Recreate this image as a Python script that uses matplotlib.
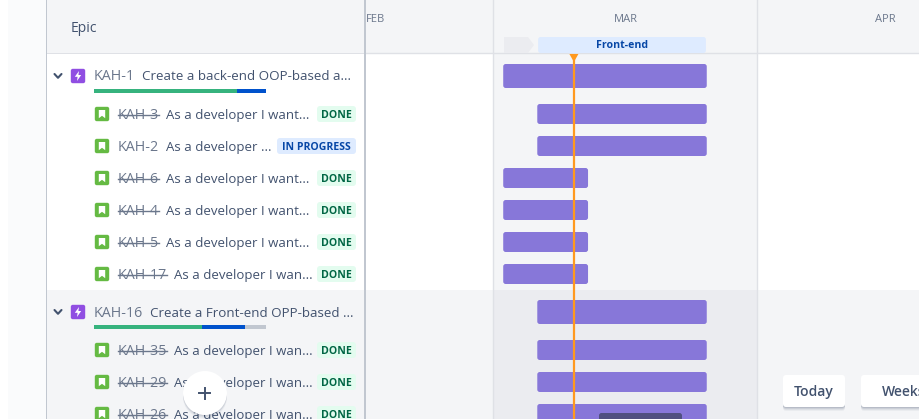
import matplotlib
matplotlib.use("Agg")
import numpy as np
from matplotlib import pyplot as plt
from matplotlib.patches import FancyBboxPatch, Circle, Polygon, Rectangle

plt.rcParams['font.family'] = ['Open Sans', 'DejaVu Sans']

# issues, top to bottom
keys = ["KAH-1", "KAH-3", "KAH-2", "KAH-6", "KAH-4", "KAH-5", "KAH-17",
        "KAH-16", "KAH-35", "KAH-29", "KAH-26"]
titles = ["Create a back-end OOP-based a...", "As a developer I want...", "As a developer ...",
          "As a developer I want...", "As a developer I want...", "As a developer I want...",
          "As a developer I wan...", "Create a Front-end OPP-based ...", "As a developer I wan...",
          "As a developer I wan...", "As a developer I wan..."]
statuses = ["", "DONE", "IN PROGRESS", "DONE", "DONE", "DONE", "DONE",
            "", "DONE", "DONE", "DONE"]
# bars in days since 1 March
bar_start = [1.2, 5.2, 5.2, 1.2, 1.2, 1.2, 1.2, 5.2, 5.2, 5.2, 5.2]
bar_end = [25.1, 25.1, 25.1, 11.16, 11.16, 11.16, 11.16, 25.1, 25.1, 25.1, 25.1]
# epic progress, percent done / in progress / to do
progress = {"KAH-1": [83, 17, 0], "KAH-16": [63, 25, 12]}
months = ["FEB", "MAR", "APR"]
month_start = [-28, 0, 31]
month_label_day = [-14.5, 15.6, 46.1]
today = 9.5
release_name = "Front-end"
release_start = 5.3
release_end = 25.0
buttons = ["Today", "Weeks"]

W, H = 920, 419
PX_PER_DAY = 264 / 31
MAR_X = 493
PANEL_X = 365
GROUP2_TOP = 290

GREY_BG = "#F4F5F7"
DARK_BG = "#EBECF0"
LINE = "#DFE1E6"
BORDER = "#C1C7D0"
TEXT = "#42526E"
KEY = "#6B778C"

fig = plt.figure(figsize=(W / 100, H / 100), dpi=100)
ax = fig.add_axes([0, 0, 1, 1], zorder=1)
ax.set_xlim(0, W)
ax.set_ylim(H, 0)
ax.axis("off")

# timeline axes, x in days
tl = fig.add_axes([PANEL_X / W, 0, (W - PANEL_X) / W, 1], zorder=2)
tl.set_xlim((PANEL_X - MAR_X) / PX_PER_DAY, (W - MAR_X) / PX_PER_DAY)
tl.set_ylim(H, 0)
tl.axis("off")
tl.patch.set_alpha(0)

# overlay for the floating stuff
top = fig.add_axes([0, 0, 1, 1], zorder=3)
top.set_xlim(0, W)
top.set_ylim(H, 0)
top.axis("off")
top.patch.set_alpha(0)


def rbox(a, x0, y0, x1, y1, r, color, z=2, **kw):
    p = FancyBboxPatch((x0 + r, y0 + r), x1 - x0 - 2 * r, y1 - y0 - 2 * r,
                       boxstyle="round,pad=%f,rounding_size=%f" % (r, r),
                       fc=color, ec="none", zorder=z, **kw)
    a.add_patch(p)
    return p


def day_box(a, d0, d1, y0, y1, color, z=3):
    # rounded box with x in days, aspect keeps the corners round in pixels
    r = 2.5
    rd = r / PX_PER_DAY
    p = FancyBboxPatch((d0 + rd, y0 + r), d1 - d0 - 2 * rd, y1 - y0 - 2 * r,
                       boxstyle="round,pad=%f,rounding_size=%f" % (rd, rd),
                       mutation_aspect=PX_PER_DAY, fc=color, ec="none", zorder=z)
    a.add_patch(p)


def epic_icon(cx, cy):
    rbox(ax, cx - 7.2, cy - 7.2, cx + 7.2, cy + 7.2, 2, "#904EE2", z=4)
    bolt = np.array([[1, -5], [-3.2, 0.8], [-0.4, 0.8], [-1, 5], [3.2, -1], [0.4, -1]])
    ax.add_patch(Polygon(bolt + [cx, cy], fc="white", ec="none", zorder=5))


def story_icon(cx, cy):
    rbox(ax, cx - 7.2, cy - 7.2, cx + 7.2, cy + 7.2, 2, "#65BA43", z=4)
    mark = np.array([[-3.2, -4], [3.2, -4], [3.2, 4.2], [0, 1.8], [-3.2, 4.2]])
    ax.add_patch(Polygon(mark + [cx, cy], fc="white", ec="none", zorder=5))


def chevron(cx, cy):
    ax.plot([cx - 3.5, cx, cx + 3.5], [cy - 2, cy + 1.8, cy - 2], color=TEXT, lw=1.5,
            solid_capstyle="round", solid_joinstyle="round", zorder=4)


# row centres, epics take more room because of the progress bar
row_y = []
y = 76
for i in range(len(keys)):
    if i > 0:
        y += 38 if statuses[i] == "" or statuses[i - 1] == "" else 32
    row_y.append(y)

# backgrounds
ax.add_patch(Rectangle((8, 0), 38, H, fc="#FAFBFC", ec="none", zorder=0))
ax.add_patch(Rectangle((47, GROUP2_TOP), W - 47, H - GROUP2_TOP, fc=GREY_BG, ec="none", zorder=0))
ax.add_patch(Rectangle((47, 0), W - 47, 53, fc=GREY_BG, ec="none", zorder=0))
ax.add_patch(Rectangle((46, 0), 1.2, H, fc=BORDER, ec="none", zorder=1))
ax.add_patch(Rectangle((47, 53), W - 47, 1, fc=LINE, ec="none", zorder=1))
ax.text(71, 28, "Epic", fontsize=10, color=TEXT, va="center", ha="left", zorder=4)

# left panel rows
renderer = fig.canvas.get_renderer()
for i, k in enumerate(keys):
    y = row_y[i] + 1
    if statuses[i] == "":
        chevron(58, y - 1)
        epic_icon(78, y - 1)
        ax.text(94, y, k, fontsize=10.3, color=KEY, va="center", ha="left", zorder=4)
        ax.text(142 if len(k) == 5 else 150, y, titles[i], fontsize=9.65, color=TEXT,
                va="center", ha="left", zorder=4)
        x = 94
        for pct, col in zip(progress[k], ["#36B37E", "#0052CC", BORDER]):
            if pct > 0:
                ax.barh(y + 14, pct * 172 / 100, left=x, height=4, color=col, zorder=4)
            x += pct * 172 / 100
    else:
        story_icon(102, y - 1)
        t = ax.text(118, y, k, fontsize=10.3, color=KEY, va="center", ha="left", zorder=4)
        if statuses[i] == "DONE":
            bb = t.get_window_extent(renderer)
            ax.plot([118, bb.x1], [y, y], color=KEY, lw=1, zorder=5)
        ax.text(166 if len(k) == 5 else 174, y, titles[i], fontsize=9.55, color=TEXT,
                va="center", ha="left", zorder=4)
        if statuses[i] == "DONE":
            rbox(ax, 317, y - 9, 356, y + 7, 3, "#E3FCEF", z=3)
            ax.text(336.5, y, "DONE", fontsize=7.6, fontweight="bold", color="#006644",
                    va="center", ha="center", zorder=4)
        else:
            rbox(ax, 277, y - 9, 356, y + 7, 3, "#DEEBFF", z=3)
            ax.text(316.5, y, "IN PROGRESS", fontsize=7.6, fontweight="bold", color="#0747A6",
                    va="center", ha="center", zorder=4)

# month columns
tl.axvspan(0, 31, ymin=1 - GROUP2_TOP / H, ymax=1, fc=GREY_BG, ec="none", zorder=0)
tl.axvspan(0, 31, ymin=0, ymax=1 - GROUP2_TOP / H, fc=DARK_BG, ec="none", zorder=0)
for m, d0, d_label in zip(months, month_start, month_label_day):
    tl.axvline(d0, color=LINE, lw=1, zorder=1)
    if m == "FEB":
        # the FEB label sticks to the panel edge while scrolled
        d_label = (376 - MAR_X) / PX_PER_DAY
    tl.text(d_label, 19, m, fontsize=8, color=KEY, ha="center", va="center")
tl.axhline(53.5, color=LINE, lw=1, zorder=1)
top.add_patch(Rectangle((364, 0), 1.6, H, fc=BORDER, ec="none", zorder=0))

# release markers
chev = np.array([[504, 37], [528, 37], [534, 45], [528, 53], [504, 53]], dtype=float)
chev[:, 0] = (chev[:, 0] - MAR_X) / PX_PER_DAY
tl.add_patch(Polygon(chev, fc=DARK_BG, ec="none", zorder=2))
day_box(tl, release_start, release_end, 37, 53, "#DEEBFF")
tl.text((release_start + release_end) / 2, 46, release_name, fontsize=7.6, fontweight="bold",
        color="#0747A6", ha="center", va="center", zorder=4)

# gantt bars
for i in range(len(keys)):
    h = 12 if statuses[i] == "" else 10
    day_box(tl, bar_start[i], bar_end[i], row_y[i] - h, row_y[i] + h, "#8777D9")

# today line
tl.plot([today, today], [54, H], color="#FF991F", lw=1.6, zorder=5, solid_capstyle="butt")
tl.add_patch(Polygon([[today - 4.5 / PX_PER_DAY, 54], [today + 4.5 / PX_PER_DAY, 54], [today, 62]],
                     fc="#FF991F", ec="none", zorder=5))

# dark tooltip at the bottom edge
day_box(tl, (599 - MAR_X) / PX_PER_DAY, (682 - MAR_X) / PX_PER_DAY, 413, 430, "#505080", z=6)

# floating buttons, soft shadow below
for dy, a in [(4, 0.04), (3, 0.06), (2, 0.08), (1, 0.10)]:
    top.add_patch(Circle((205, 393 + dy), 22, fc="#091E42", alpha=a * 0.7, ec="none", zorder=1))
    rbox(top, 783, 375 + dy, 845, 407 + dy, 3, "#091E42", z=1, alpha=a)
    rbox(top, 861, 375 + dy, 960, 407 + dy, 3, "#091E42", z=1, alpha=a)
top.add_patch(Circle((205, 393), 22, fc="white", ec="none", zorder=2))
top.plot([199.5, 210.5], [393, 393], color=TEXT, lw=1.4, zorder=3)
top.plot([205, 205], [387.5, 398.5], color=TEXT, lw=1.4, zorder=3)
rbox(top, 783, 375, 845, 407, 3, "white")
rbox(top, 861, 375, 960, 407, 3, "white")
top.text(814, 392, buttons[0], fontsize=10, fontweight="semibold", color=TEXT, ha="center", va="center", zorder=3)
top.text(882, 392, buttons[1], fontsize=10, fontweight="semibold", color=TEXT, ha="left", va="center", zorder=3,
         clip_on=True)

fig.savefig("out.png", dpi=100)
